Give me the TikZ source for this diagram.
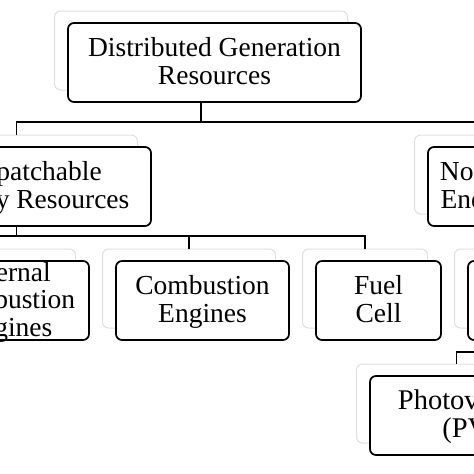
\documentclass[tikz,border=0pt]{standalone}
\usepackage{fontspec}
\setmainfont{Liberation Serif}
\newcommand\myTop{\rule{0pt}{22.5pt}}
\newcommand\myBot{\rule[-6.5pt]{0pt}{6.5pt}}
\tikzset{
  box/.style={draw=black, line width=1.7pt, rounded corners=6pt, fill=white,
    align=center, inner sep=0pt, minimum height=79pt,
    font=\fontsize{27.5}{28}\selectfont},
  boxtext/.style={align=center, inner sep=0pt,
    font=\fontsize{27.5}{27.5}\selectfont},
  shad/.style={draw=black!12, line width=1pt, rounded corners=6pt, fill=white,
    inner sep=0pt, minimum height=79pt},
  conn/.style={line width=1.5pt, draw=black},
}
\begin{document}
\begin{tikzpicture}[x=1pt,y=-1pt]
\useasboundingbox (0,0) rectangle (474,474);
\clip (0,0) rectangle (474,474);

% shadows (offset -13.5, -12)
\node[shad, minimum width=293pt] (topS)  at (201,   50.5) {};
\node[shad, minimum width=242pt] (dispS) at (16.5, 174.5) {};
\node[shad, minimum width=224pt] (nonS)  at (526.5,174.5) {};
\node[shad, minimum width=162pt] (iceS)  at (-5.5, 288.5) {};
\node[shad, minimum width=173pt] (ceS)   at (189,  288.5) {};
\node[shad, minimum width=125pt] (fcS)   at (365,  288.5) {};
\node[shad, minimum width=184pt] (renS)  at (546.5,288.5) {};
\node[shad, minimum width=200pt] (pvS)   at (456.5,403.5) {};

% connectors
\coordinate (b1) at (0,122);
\coordinate (b2) at (0,236);
\coordinate (b3) at (0,352);
\draw[conn] (topS.south) -- (topS.center |- b1);
\draw[conn] (dispS.north) |- (nonS.north |- b1) -- (nonS.north);
\draw[conn] (dispS.south) -- (dispS.center |- b2);
\draw[conn] (iceS.north) |- (fcS.north |- b2) -- (fcS.north);
\draw[conn] (ceS.north) -- (ceS.north |- b2);
\draw[conn] (nonS.south) -- (nonS.center |- b2) -| (renS.north);
\draw[conn] (renS.south) -- (renS.center |- b3) -| (pvS.north);

% boxes
\node[box, minimum width=293pt] (top)  at (214.5, 62.5) {\myTop Distributed Generation\\Resources\myBot};
\node[box, minimum width=242pt] (disp) at (30,   186.5) {\myTop Dispatchable\\Energy Resources\myBot};
\node[box, minimum width=224pt] (non)  at (540,  186.5) {\myTop Non-Dispatchable\\Energy Resources\myBot};
\node[box, minimum width=162pt] (ice)  at (8,    300.5) {};
\node[boxtext] (iceT) at (ice.center) {\myTop Internal\\Combustion\\Engines\myBot};
\node[box, minimum width=173pt] (ce)   at (202.5,300.5) {\myTop Combustion\\Engines\myBot};
\node[box, minimum width=125pt] (fc)   at (378.5,300.5) {\myTop Fuel\\Cell\myBot};
\node[box, minimum width=184pt] (ren)  at (560,  300.5) {};
\node[box, minimum width=200pt, font=\fontsize{28.5}{28}\selectfont] (pv) at (470, 415.5) {\myTop Photovoltaic\\(PV)\myBot};
\end{tikzpicture}
\end{document}
